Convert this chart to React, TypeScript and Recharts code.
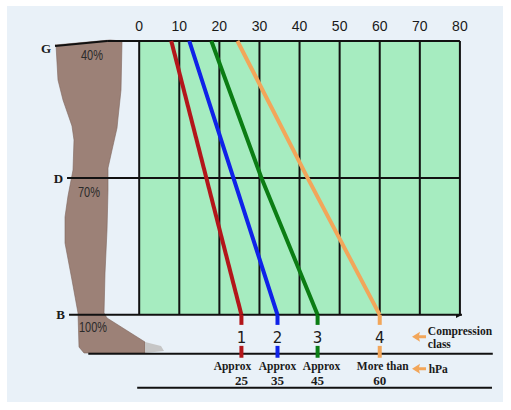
import React from "react";
import {
    ComposedChart,
    Line,
    XAxis,
    YAxis,
    ReferenceArea,
    ReferenceLine,
    ReferenceDot
} from "recharts";

// leg levels and the share of ankle pressure at each
const levels = ["G", "D", "B"];
const pressurePct = [40, 70, 100];

// pressure read along the top scale at G, D and B for each class
const class1 = [8, 16.75, 25.5];
const class2 = [12.5, 23.5, 34.5];
const class3 = [18, 30.5, 44.5];
const class4 = [24.5, 42, 60];

const classNames = ["1", "2", "3", "4"];
const hpaPrefix = ["Approx", "Approx", "Approx", "More than"];
const hpaValues = ["25", "35", "45", "60"];

const xTicks = [0, 10, 20, 30, 40, 50, 60, 70, 80];

const seriesKeys = ["c1", "c2", "c3", "c4"];
const seriesColors = ["#b3161a", "#0f22e8", "#0b7d14", "#f2a65a"];
const approxShift = [-9, 0, 4, 3];

const allClasses = [class1, class2, class3, class4];
const ankle = allClasses.map((c) => c[c.length - 1]);

const rows = pressurePct.map((pct, i) => {
    const row: any = { pct };
    seriesKeys.forEach((k, s) => (row[k] = allClasses[s][i]));
    return row;
});

const serif = "'Liberation Serif', 'Times New Roman', serif";
const sans = "'Liberation Sans', Arial, sans-serif";
const ink = "#1a1a1a";

const legPath =
    "M55,45 L110,40 L122,41 L121,90 L118,118 L117,128 L112,150 L108,168 L108,190 L107,230 L105,273 L104,313 L107,318 L145,342 L145,353 L84,353 L79,347 L78,313 L72,280 L65,243 L65,217 L68,196 L73,170 L74,140 L72,126 L63,100 L58,80 L56,45 Z";

function Arrow(props: any) {
    const { cx, cy } = props;
    return (
        <path
            d={`M${cx - 7},${cy} L${cx + 1},${cy - 5} L${cx},${cy - 1.5} L${cx + 7},${cy - 1.5} L${cx + 7},${cy + 1.5} L${cx},${cy + 1.5} L${cx + 1},${cy + 5} Z`}
            fill="#f2a65a"
        />
    );
}

const boldSerif = { fill: ink, fontSize: 11.5, fontWeight: 700, fontFamily: serif };

export default function App() {
    return (
        <div style={{ position: "absolute", left: 0, top: 0, width: 511, height: 410, background: "#fff" }}>
            <div style={{ position: "absolute", left: 7, top: 6, width: 496, height: 396, background: "#e9f1f8" }} />
            <svg width={511} height={410} style={{ position: "absolute", left: 0, top: 0 }}>
                <path d={legPath} fill="#9c8177" stroke="#7d655c" strokeWidth={0.6} />
                <path d="M145,342 L161,346 L164,351 L145,353 Z" fill="#c6c6c6" />
                <text x={92} y={60} textAnchor="middle" fontFamily={sans} fontSize={14} fill="#2b2b2b" textLength={22} lengthAdjust="spacingAndGlyphs">40%</text>
                <text x={89} y={197} textAnchor="middle" fontFamily={sans} fontSize={14} fill="#2b2b2b" textLength={22} lengthAdjust="spacingAndGlyphs">70%</text>
                <text x={93} y={332} textAnchor="middle" fontFamily={sans} fontSize={14} fill="#2b2b2b" textLength={28} lengthAdjust="spacingAndGlyphs">100%</text>
                <path d="M456,312 L462,315 L456,318 Z" fill="#111" />
            </svg>
            <div style={{ position: "absolute", left: 0, top: 0 }}>
                <ComposedChart
                    width={511}
                    height={410}
                    layout="vertical"
                    data={rows}
                    margin={{ top: 11, right: 11, bottom: 13, left: 51 }}
                >
                    <XAxis
                        type="number"
                        orientation="top"
                        domain={[-22, 90]}
                        ticks={xTicks}
                        height={30}
                        axisLine={false}
                        tickLine={false}
                        tickSize={6}
                        tickMargin={4}
                        tick={{ fill: ink, fontSize: 14, fontFamily: sans }}
                    />
                    <YAxis type="number" dataKey="pct" domain={[40, 118]} hide />

                    <ReferenceArea x1={0} x2={80} y1={40} y2={100} fill="#a6ecc0" fillOpacity={1} stroke="none" />
                    {xTicks.map((t) => (
                        <ReferenceLine
                            key={t}
                            segment={[{ x: t, y: 40 }, { x: t, y: 100 }]}
                            stroke="#111"
                            strokeWidth={2}
                        />
                    ))}

                    {/* leg levels */}
                    <ReferenceLine
                        segment={[{ x: -21, y: 41.1 }, { x: -8, y: 40 }]}
                        stroke="#111"
                        strokeWidth={2}
                        label={{ value: levels[0], position: "left", offset: 4, dy: 5, ...boldSerif, fontSize: 13 }}
                    />
                    <ReferenceLine segment={[{ x: -8, y: pressurePct[0] }, { x: 80, y: pressurePct[0] }]} stroke="#111" strokeWidth={2} />
                    <ReferenceLine
                        segment={[{ x: -18, y: pressurePct[1] }, { x: 80, y: pressurePct[1] }]}
                        stroke="#111"
                        strokeWidth={2}
                        label={{ value: levels[1], position: "left", offset: 4, ...boldSerif, fontSize: 13 }}
                    />
                    <ReferenceLine
                        segment={[{ x: -17.5, y: pressurePct[2] }, { x: 80.5, y: pressurePct[2] }]}
                        stroke="#111"
                        strokeWidth={2}
                        label={{ value: levels[2], position: "left", offset: 4, ...boldSerif, fontSize: 13 }}
                    />
                    <ReferenceLine segment={[{ x: -12.7, y: 108.5 }, { x: 88.2, y: 108.5 }]} stroke="#111" strokeWidth={2} />
                    <ReferenceLine segment={[{ x: -0.5, y: 116 }, { x: 88, y: 116 }]} stroke="#111" strokeWidth={2} />

                    {seriesKeys.map((k, i) => (
                        <Line
                            key={k}
                            dataKey={k}
                            type="linear"
                            stroke={seriesColors[i]}
                            strokeWidth={4}
                            dot={false}
                            activeDot={false}
                            isAnimationActive={false}
                        />
                    ))}

                    {/* drops from the ankle down to the class / hPa rows, broken by the class number */}
                    {ankle.map((v, i) => (
                        <ReferenceLine key={"d1" + i} segment={[{ x: v, y: 100 }, { x: v, y: 102.2 }]} stroke={seriesColors[i]} strokeWidth={4} />
                    ))}
                    {ankle.map((v, i) => (
                        <ReferenceLine key={"d2" + i} segment={[{ x: v, y: 106.8 }, { x: v, y: 109.4 }]} stroke={seriesColors[i]} strokeWidth={4} />
                    ))}

                    {ankle.map((v, i) => (
                        <ReferenceDot
                            key={"n" + i}
                            x={v}
                            y={105}
                            r={0}
                            stroke="none"
                            label={{ value: classNames[i], position: "center", fill: ink, fontSize: 15, fontFamily: "'DejaVu Sans', sans-serif" }}
                        />
                    ))}
                    {ankle.map((v, i) => (
                        <ReferenceDot
                            key={"a" + i}
                            x={v}
                            y={111.2}
                            r={0}
                            stroke="none"
                            label={{ value: hpaPrefix[i], position: "center", dx: approxShift[i], ...boldSerif }}
                        />
                    ))}
                    {ankle.map((v, i) => (
                        <ReferenceDot
                            key={"h" + i}
                            x={v}
                            y={114.4}
                            r={0}
                            stroke="none"
                            label={{ value: hpaValues[i], position: "center", ...boldSerif, fontSize: 13 }}
                        />
                    ))}

                    <ReferenceDot x={69.8} y={104.8} r={0} shape={<Arrow />} />
                    <ReferenceDot x={69.8} y={111.8} r={0} shape={<Arrow />} />
                    <ReferenceDot x={72} y={103.5} r={0} stroke="none"
                        label={{ value: "Compression", position: "right", offset: 0, ...boldSerif }} />
                    <ReferenceDot x={72} y={106.4} r={0} stroke="none"
                        label={{ value: "class", position: "right", offset: 0, ...boldSerif }} />
                    <ReferenceDot x={72.2} y={111.8} r={0} stroke="none"
                        label={{ value: "hPa", position: "right", offset: 0, ...boldSerif }} />
                </ComposedChart>
            </div>
        </div>
    );
}
